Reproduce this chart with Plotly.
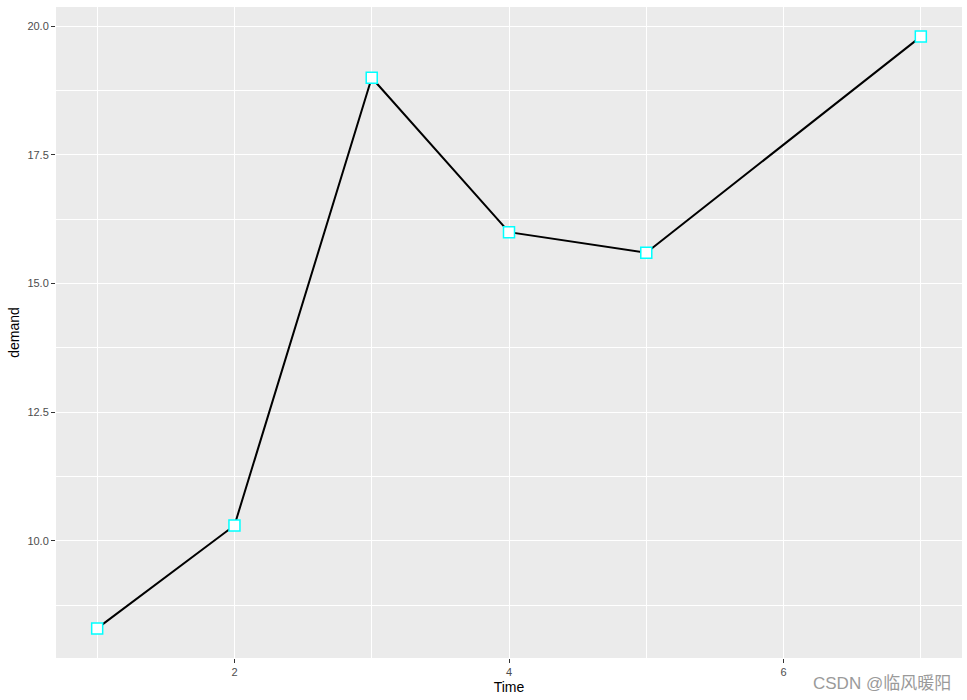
import plotly.graph_objects as go

time = [1, 2, 3, 4, 5, 7]
demand = [8.3, 10.3, 19.0, 16.0, 15.6, 19.8]
x_ticks = [2, 4, 6]
y_ticks = [10.0, 12.5, 15.0, 17.5, 20.0]

fig = go.Figure()
fig.add_trace(go.Scatter(
    x=time, y=demand, mode="lines+markers",
    line=dict(color="black", width=2),
    marker=dict(symbol="square", size=11, color="white",
                line=dict(color="cyan", width=1.5)),
    showlegend=False,
))

fig.update_layout(
    width=967, height=700,
    margin=dict(l=56, r=5, t=7, b=42, autoexpand=False),
    paper_bgcolor="white",
    plot_bgcolor="#EBEBEB",
    font=dict(family="Liberation Sans, Arial, sans-serif", color="black"),
    annotations=[dict(
        text="CSDN @临风暖阳", xref="paper", yref="paper",
        x=1.0, y=0.0, xanchor="right", yanchor="middle",
        xshift=-9, yshift=-25, showarrow=False,
        font=dict(size=17, color="#9A9A9A",
                  family="Liberation Sans, Noto Sans CJK SC, sans-serif"),
    )],
)

fig.update_xaxes(
    automargin=False,
    range=[0.7, 7.3], tickvals=x_ticks, ticktext=[str(v) for v in x_ticks],
    showgrid=True, gridcolor="white", gridwidth=1.2,
    minor=dict(tickvals=[1, 3, 5, 7], showgrid=True, gridcolor="white", gridwidth=0.6),
    zeroline=False, showline=False,
    ticks="outside", ticklen=4, tickcolor="#333333", tickwidth=1,
    tickfont=dict(size=11, color="#4D4D4D"),
    title=dict(text="Time", font=dict(size=14, color="black"), standoff=4),
)
fig.update_yaxes(
    automargin=False,
    range=[7.725, 20.375], tickvals=y_ticks, ticktext=[f"{v:.1f}" for v in y_ticks],
    showgrid=True, gridcolor="white", gridwidth=1.2,
    minor=dict(tickvals=[8.75, 11.25, 13.75, 16.25, 18.75], showgrid=True,
               gridcolor="white", gridwidth=0.6),
    zeroline=False, showline=False,
    ticks="outside", ticklen=4, tickcolor="#333333", tickwidth=1,
    tickfont=dict(size=11, color="#4D4D4D"),
    title=dict(text="demand", font=dict(size=14, color="black"), standoff=4),
)

fig.write_html(
    "out.html",
    config={"displayModeBar": False},
    post_script="document.body.style.margin='0';document.body.style.overflow='hidden';",
)
